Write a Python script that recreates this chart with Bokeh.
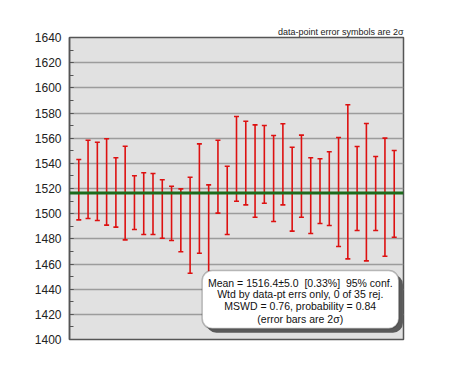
from bokeh.plotting import figure
from bokeh.models import BoxAnnotation, Label, Range1d, SingleIntervalTicker, ColumnDataSource, Span
from bokeh.embed import file_html
from bokeh.resources import INLINE

# ---- data ----
upper = [1543.0, 1558.4, 1556.8, 1559.5, 1544.4, 1553.6, 1530.1, 1532.5, 1531.9, 1526.9,
         1521.8, 1519.7, 1529.0, 1555.5, 1522.9, 1558.4, 1537.7, 1577.2, 1573.5, 1570.6,
         1570.1, 1562.1, 1571.4, 1552.8, 1562.4, 1544.4, 1543.6, 1549.2, 1560.5, 1586.5,
         1553.4, 1571.7, 1545.4, 1560.0, 1550.2]
lower = [1495.1, 1496.2, 1494.6, 1490.9, 1489.3, 1479.2, 1487.4, 1483.4, 1483.4, 1480.5,
         1478.7, 1469.7, 1452.7, 1468.6, 1440.0, 1500.4, 1483.4, 1509.9, 1507.0, 1497.2,
         1508.3, 1493.8, 1507.0, 1486.1, 1497.2, 1484.2, 1492.2, 1490.6, 1473.9, 1464.1,
         1486.6, 1462.5, 1486.6, 1466.2, 1481.3]
index = list(range(1, len(upper) + 1))
mean_value = 1516.4
y_min, y_max = 1400, 1640
note_top = "data-point error symbols are 2\u03c3"
NB = "\u00a0"
box_lines = [
    "Mean = 1516.4\u00b15.0 " + NB + "[0.33%] " + NB + "95% conf.",
    "Wtd by data-pt errs only, 0 of 35 rej.",
    "MSWD = 0.76, probability = 0.84",
    "(error bars are 2\u03c3)",
]

FONT = "Liberation Sans"

p = figure(width=458, height=360, output_backend="svg", toolbar_location=None,
           x_range=Range1d(0, len(upper) + 1), y_range=Range1d(y_min, y_max),
           min_border_left=69, min_border_right=55, min_border_top=37, min_border_bottom=21,
           background_fill_color="#e1e1e1", border_fill_color="white")

p.title.text = note_top
p.title.align = "right"
p.title.text_font = FONT
p.title.text_font_size = "9px"
p.title.text_font_style = "normal"
p.title.text_color = "#222222"
p.title.standoff = 2

p.outline_line_color = "#555555"
p.outline_line_width = 1.5

p.xaxis.visible = False
p.xgrid.visible = False

p.yaxis.ticker = SingleIntervalTicker(interval=20, num_minor_ticks=2)
p.yaxis.major_label_text_font = FONT
p.yaxis.major_label_text_font_size = "12px"
p.yaxis.major_label_text_color = "#222222"
p.yaxis.major_label_standoff = 8
p.yaxis.axis_line_color = "#555555"
p.yaxis.axis_line_width = 1.5
p.yaxis.major_tick_in = 4
p.yaxis.major_tick_out = 0
p.yaxis.minor_tick_in = 4
p.yaxis.minor_tick_out = 0
p.yaxis.major_tick_line_color = "#555555"
p.yaxis.minor_tick_line_color = "#555555"

p.ygrid.ticker = SingleIntervalTicker(interval=20)
p.ygrid.grid_line_color = "#9c9c9c"
p.ygrid.grid_line_width = 1.5

src = ColumnDataSource(dict(x=index, lo=lower, hi=upper))
red = "#dd1111"
p.segment(x0="x", y0="lo", x1="x", y1="hi", source=src, line_color=red, line_width=1.6)
p.scatter(x="x", y="hi", source=src, marker="dash", size=5, line_color=red, line_width=1.6)
p.scatter(x="x", y="lo", source=src, marker="dash", size=5, line_color=red, line_width=1.6)

p.add_layout(Span(location=mean_value, dimension="width", line_color="#1c6b1c", line_width=3))

# text box with shadow
bx0, bx1, by0, by1 = 14.3, 35.49, 1408.7, 1454.8
p.add_layout(BoxAnnotation(left=bx0 + 0.45, right=bx1 + 0.45, bottom=by0 - 3.3, top=by1 - 3.3,
                           fill_color="#5a5a5a", fill_alpha=1.0, line_color=None,
                           border_radius=10))
p.add_layout(BoxAnnotation(left=bx0, right=bx1, bottom=by0, top=by1,
                           fill_color="white", fill_alpha=1.0, line_color="#333333",
                           line_width=1.5, border_radius=10))
ys = [1445.1, 1435.8, 1426.5, 1416.4]
for t, yy in zip(box_lines, ys):
    p.add_layout(Label(x=24.87, y=yy, text=t, text_align="center", text_baseline="middle",
                       text_font=FONT, text_font_size="10.5px", text_color="#111111"))

open("out.html", "w").write(file_html(p, INLINE))
